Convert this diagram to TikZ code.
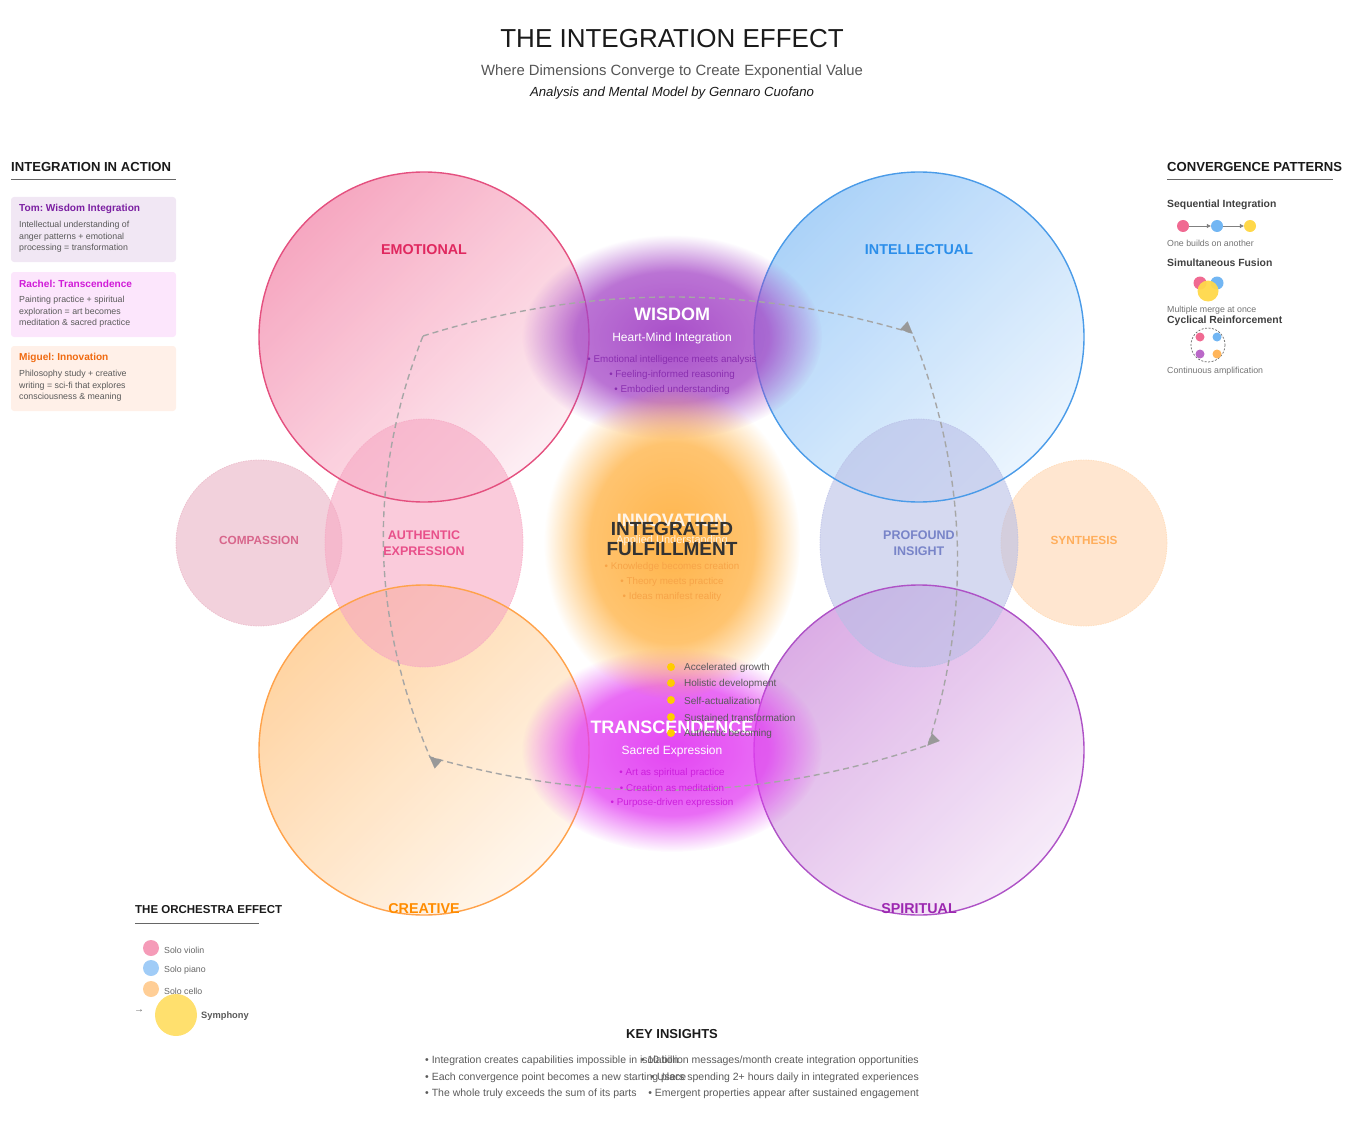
\documentclass[tikz,border=0pt]{standalone}
\usepackage{fontspec}
\setmainfont{Liberation Sans}
\frenchspacing
\usetikzlibrary{shapes.geometric, arrows.meta, positioning, fadings}
\definecolor{ink}{HTML}{1A1A1A}
\definecolor{subgray}{HTML}{555555}
\definecolor{txtgray}{HTML}{5A5A5A}
\definecolor{emoLine}{HTML}{E4507F}
\definecolor{emoTxt}{HTML}{E0285F}
\definecolor{emoA}{HTML}{F59BB8}
\definecolor{emoB}{HTML}{FDECF2}
\definecolor{intLine}{HTML}{4A9BE8}
\definecolor{intTxt}{HTML}{2B8EEA}
\definecolor{intA}{HTML}{A0CCF7}
\definecolor{intB}{HTML}{E8F3FE}
\definecolor{creLine}{HTML}{FFA24A}
\definecolor{creTxt}{HTML}{FF8C00}
\definecolor{creA}{HTML}{FFCE96}
\definecolor{creB}{HTML}{FFF5EA}
\definecolor{spiLine}{HTML}{AE52C6}
\definecolor{spiTxt}{HTML}{9C27B0}
\definecolor{spiA}{HTML}{D6A2E2}
\definecolor{spiB}{HTML}{F5E8F8}
\definecolor{authF}{HTML}{F7A8C3}
\definecolor{authTxt}{HTML}{E8508A}
\definecolor{compF}{HTML}{E9B3C4}
\definecolor{compTxt}{HTML}{D8668C}
\definecolor{insF}{HTML}{B9BFE6}
\definecolor{insTxt}{HTML}{7884C8}
\definecolor{synF}{HTML}{FFD6B0}
\definecolor{synTxt}{HTML}{FFAE5C}
\definecolor{wisGlow}{HTML}{A445C6}
\definecolor{wisTxt}{HTML}{8A2FB0}
\definecolor{innGlow}{HTML}{FFB040}
\definecolor{innTxt}{HTML}{F7A448}
\definecolor{traGlow}{HTML}{E23CF2}
\definecolor{traTxt}{HTML}{CC1FDC}
\definecolor{dotYel}{HTML}{FFCC00}
\definecolor{tomBg}{HTML}{F1E7F4}
\definecolor{tomC}{HTML}{7B1FA2}
\definecolor{racBg}{HTML}{FCE6FC}
\definecolor{racC}{HTML}{D01AD8}
\definecolor{migBg}{HTML}{FFF0E8}
\definecolor{migC}{HTML}{F06A10}
\definecolor{pPink}{HTML}{F06A92}
\definecolor{pBlue}{HTML}{72B6F3}
\definecolor{pYel}{HTML}{FFD84A}
\definecolor{pPurp}{HTML}{BA68C8}
\definecolor{pOrg}{HTML}{FFB55A}
\definecolor{clear}{gray}{0}
% soft radial glow for the centre blobs
\pgfdeclareradialshading{glowshade}{\pgfpointorigin}{color(0bp)=(clear!5); color(16bp)=(clear!25); color(25bp)=(clear!100); color(50bp)=(clear!100)}
\pgfdeclarefading{glow}{\pgfuseshading{glowshade}}
\tikzset{
  bigcirc/.style={circle, minimum size=330pt, inner sep=0, fill opacity=0.88},
  midshape/.style={inner sep=0, line width=0.8pt, dash pattern=on 1.5pt off 1pt, fill opacity=0.6, draw opacity=0.7},
  bigname/.style={font=\fontsize{14.3}{16}\selectfont\bfseries},
  midname/.style={font=\fontsize{12.5}{15.5}\selectfont\bfseries, align=center},
  blobname/.style={font=\fontsize{18}{20}\selectfont\bfseries, text=white},
  blobsub/.style={font=\fontsize{12}{14}\selectfont, text=white},
  blobitem/.style={font=\fontsize{9.8}{11}\selectfont},
  cyc/.style={draw=black!35, line width=1.4pt, dash pattern=on 6pt off 4pt},
  cyctip/.style={draw=black!40, fill=black!40, line width=0.1pt, -{Triangle[length=12pt,width=11pt]}},
  paneltitle/.style={font=\fontsize{13.1}{15}\selectfont\bfseries, text=ink, inner sep=0},
  boxhead/.style={font=\fontsize{10.1}{12}\selectfont\bfseries, inner sep=0},
  boxbody/.style={font=\fontsize{8.8}{11.6}\selectfont, text=txtgray, align=left, inner sep=0},
  pathead/.style={font=\fontsize{10.4}{12}\selectfont\bfseries, text=black!75, inner sep=0, anchor=west},
  patnote/.style={font=\fontsize{8.8}{10}\selectfont, text=black!55, inner sep=0, anchor=west},
  insight/.style={font=\fontsize{10.5}{12}\selectfont, text=txtgray, inner sep=0},
}
\begin{document}
\begin{tikzpicture}[x=1pt, y=-1pt]
\useasboundingbox (0,0) rectangle (1360,1142);

% Header
\node[font=\fontsize{26}{30}\selectfont, text=ink] (title) at (672,39) {THE INTEGRATION EFFECT};
\node[font=\fontsize{14.85}{17}\selectfont, text=subgray] (subtitle) at (672,72) {Where Dimensions Converge to Create Exponential Value};
\node[font=\fontsize{13.2}{15}\selectfont\itshape, text=ink] (byline) at (672,93) {Analysis and Mental Model by Gennaro Cuofano};

% Four dimensions (fills)
\node[bigcirc, top color=emoA, bottom color=emoB, shading angle=45] (emo) at (424,337) {};
\node[bigcirc, top color=intA, bottom color=intB, shading angle=45] (int) at (919,337) {};
\node[bigcirc, top color=creA, bottom color=creB, shading angle=45] (cre) at (424,750) {};
\node[bigcirc, top color=spiA, bottom color=spiB, shading angle=45] (spi) at (919,750) {};

% Overlap zones
\node[midshape, circle, minimum size=166pt, fill=compF, draw=compF] (comp) at (259,543) {};
\node[midshape, circle, minimum size=166pt, fill=synF, draw=synF] (syn) at (1084,543) {};
\node[midshape, ellipse, minimum width=198pt, minimum height=248pt, fill=authF, draw=authF] (auth) at (424,543) {};
\node[midshape, ellipse, minimum width=198pt, minimum height=248pt, fill=insF, draw=insF] (ins) at (919,543) {};

% Outlines on top
\foreach \n/\c in {emo/emoLine, int/intLine, cre/creLine, spi/spiLine}
  \draw[\c, line width=1.4pt] (\n.center) circle (165pt);

% Centre glows
\fill[wisGlow, path fading=glow] (672,337) ellipse (150 and 102);
\fill[traGlow, path fading=glow] (672,750) ellipse (150 and 102);
\fill[innGlow, path fading=glow] (672,543) ellipse (128 and 156);

% Cycle of reinforcement
\coordinate (pA) at (423,336);
\coordinate (pB) at (912,333);
\coordinate (pC) at (928,745);
\coordinate (pD) at (430,757);
\draw[cyc] (pA) .. controls (586,285) and (749,284) .. (pB)
  .. controls (967,471) and (972,608) .. (pC)
  .. controls (763,801) and (597,805) .. (pD)
  .. controls (370,616) and (368,475) .. (pA);
\draw[cyctip] (pB) -- ++(0.66,0.61);
\draw[cyctip] (pC) -- ++(-0.63,0.64);
\draw[cyctip] (pD) -- ++(-0.68,-0.6);

% Dimension labels
\node[bigname, text=emoTxt] (emoL) at (424,250) {EMOTIONAL};
\node[bigname, text=intTxt] (intL) at (919,250) {INTELLECTUAL};
\node[bigname, text=creTxt] (creL) at (424,909) {CREATIVE};
\node[bigname, text=spiTxt] (spiL) at (919,909) {SPIRITUAL};
\node[midname, text=compTxt, font=\fontsize{11.8}{14}\selectfont\bfseries] (compL) at (259,540) {COMPASSION};
\node[midname, text=synTxt, font=\fontsize{11.8}{14}\selectfont\bfseries] (synL) at (1084,540) {SYNTHESIS};
\node[midname, text=authTxt] (authL) at (424,543) {AUTHENTIC\\EXPRESSION};
\node[midname, text=insTxt] (insL) at (919,543) {PROFOUND\\INSIGHT};

% Wisdom
\node[blobname] (wisL) at (672,314) {WISDOM};
\node[blobsub] (wisS) at (672,338) {Heart-Mind Integration};
\node[blobitem, text=wisTxt] (wis1) at (672,360) {• Emotional intelligence meets analysis};
\node[blobitem, text=wisTxt] (wis2) at (672,375) {• Feeling-informed reasoning};
\node[blobitem, text=wisTxt] (wis3) at (672,390) {• Embodied understanding};

% Innovation, under the centre title
\node[blobname, text opacity=0.85] (innL) at (672,520) {INNOVATION};
\node[blobsub, font=\fontsize{11}{13}\selectfont, text opacity=0.8] (innS) at (672,541) {Applied Understanding};
\node[blobitem, text=innTxt] (inn1) at (672,567) {• Knowledge becomes creation};
\node[blobitem, text=innTxt] (inn2) at (672,582) {• Theory meets practice};
\node[blobitem, text=innTxt] (inn3) at (672,597) {• Ideas manifest reality};
\node[font=\fontsize{19}{20}\selectfont\bfseries, text=black!80, align=center] (core) at (672,539) {INTEGRATED\\FULFILLMENT};

% Transcendence
\node[blobname] (traL) at (672,727) {TRANSCENDENCE};
\node[blobsub] (traS) at (672,751) {Sacred Expression};
\node[blobitem, text=traTxt] (tra1) at (672,773) {• Art as spiritual practice};
\node[blobitem, text=traTxt] (tra2) at (672,788) {• Creation as meditation};
\node[blobitem, text=traTxt] (tra3) at (672,803) {• Purpose-driven expression};

% Outcomes
\foreach \y/\t [count=\i] in {667/Accelerated growth, 683/Holistic development, 700/Self-actualization, 717/Sustained transformation, 733/Authentic becoming} {
  \fill[dotYel] (671,\y) circle (4);
  \node[blobitem, font=\fontsize{10}{11}\selectfont, text=black!65, anchor=west, inner sep=0] (out\i) at (684,\y+1) {\t};
}

% Integration in action
\node[paneltitle, anchor=west] (actT) at (11,167) {INTEGRATION IN ACTION};
\draw[black!60, line width=1pt] (11,180) -- (176,180);
\foreach \y/\bg/\fg/\ttl/\txt [count=\i] in {
  197/tomBg/tomC/{Tom: Wisdom Integration}/{Intellectual understanding of\\anger patterns + emotional\\processing = transformation},
  272/racBg/racC/{Rachel: Transcendence}/{Painting practice + spiritual\\exploration = art becomes\\meditation \& sacred practice},
  346/migBg/migC/{Miguel: Innovation}/{Philosophy study + creative\\writing = sci-fi that explores\\consciousness \& meaning}} {
  \fill[\bg, rounded corners=3pt] (11,\y) rectangle (176,\y+65);
  \node[boxhead, text=\fg, anchor=west] (case\i) at (19,\y+12) {\ttl};
  \node[boxbody, anchor=north west] (caseB\i) at (19,\y+24) {\txt};
}

% Convergence patterns
\node[paneltitle, anchor=west] (patT) at (1167,167) {CONVERGENCE PATTERNS};
\draw[black!60, line width=1pt] (1167,180) -- (1333,180);
\node[pathead] (seqT) at (1167,205) {Sequential Integration};
\node[circle, fill=pPink, inner sep=0, minimum size=12pt] (s1) at (1183,226) {};
\node[circle, fill=pBlue, inner sep=0, minimum size=12pt] (s2) at (1217,226) {};
\node[circle, fill=pYel, inner sep=0, minimum size=12pt] (s3) at (1250,226) {};
\draw[black!50, line width=0.8pt, -{Triangle[length=4pt,width=4pt]}] (s1) -- (s2);
\draw[black!50, line width=0.8pt, -{Triangle[length=4pt,width=4pt]}] (s2) -- (s3);
\node[patnote] (seqN) at (1167,243) {One builds on another};
\node[pathead] (simT) at (1167,263) {Simultaneous Fusion};
\fill[pPink] (1200,283) circle (6.5);
\fill[pBlue] (1217,283) circle (6.5);
\fill[pYel, fill opacity=0.95] (1208,291) circle (10.5);
\node[patnote] (simN) at (1167,310) {Multiple merge at once};
\node[pathead] (cycT) at (1167,321) {Cyclical Reinforcement};
\draw[black!60, dash pattern=on 2pt off 1.5pt, line width=0.7pt] (1208,345) circle (17);
\foreach \x/\y/\c in {1200/337/pPink, 1217/337/pBlue, 1200/354/pPurp, 1217/354/pOrg}
  \fill[\c] (\x,\y) circle (4.5);
\node[patnote] (cycN) at (1167,371) {Continuous amplification};

% The orchestra effect
\node[paneltitle, anchor=west, font=\fontsize{11.5}{13}\selectfont\bfseries] (orcT) at (135,910) {THE ORCHESTRA EFFECT};
\draw[black!60, line width=1pt] (135,923) -- (259,923);
\foreach \y/\c/\t [count=\i] in {948/emoA/Solo violin, 968/intA/Solo piano, 989/creA/Solo cello} {
  \fill[\c] (151,\y) circle (8);
  \node[patnote, font=\fontsize{8.8}{10}\selectfont, text=black!60] (solo\i) at (164,\y+2) {\t};
}
\node[font=\fontsize{10}{10}\selectfont, text=black!60, inner sep=0] (orcA) at (139,1011) {→};
\fill[pYel!80] (176,1015) circle (21);
\node[pathead, font=\fontsize{9.3}{11}\selectfont\bfseries, text=black!65] (symp) at (201,1016) {Symphony};

% Key insights
\node[paneltitle, font=\fontsize{13}{15}\selectfont\bfseries] (keyT) at (672,1034) {KEY INSIGHTS};
\foreach \y/\t [count=\i] in {1061/{Integration creates capabilities impossible in isolation}, 1078/{Each convergence point becomes a new starting place}, 1094/{The whole truly exceeds the sum of its parts}}
  \node[insight, anchor=west] (keyL\i) at (425,\y) {• \t};
\foreach \y/\t [count=\i] in {1061/{10 billion messages/month create integration opportunities}, 1078/{Users spending 2+ hours daily in integrated experiences}, 1094/{Emergent properties appear after sustained engagement}}
  \node[insight, anchor=east] (keyR\i) at (919,\y) {• \t};
\end{tikzpicture}
\end{document}
